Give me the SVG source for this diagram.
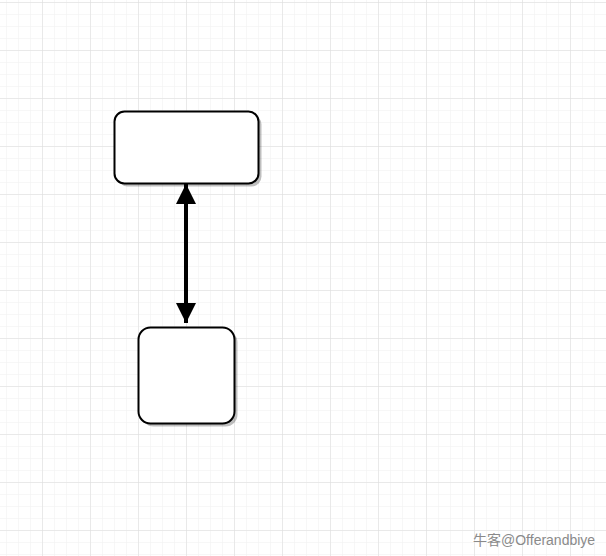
<svg xmlns="http://www.w3.org/2000/svg" width="606" height="556" viewBox="0 0 606 556">
<defs>
<pattern id="minor" x="6" y="2" width="12" height="12" patternUnits="userSpaceOnUse">
<path d="M0 0H12M0 0V12" fill="none" stroke="#f0f0f0" stroke-width="1"/>
</pattern>
<pattern id="major" x="42" y="2" width="48" height="48" patternUnits="userSpaceOnUse">
<path d="M0 0H48M0 0V48" fill="none" stroke="#dcdcdc" stroke-width="1"/>
</pattern>
<marker id="ah" viewBox="0 0 20 21" refX="20" refY="10" markerWidth="20" markerHeight="21" markerUnits="userSpaceOnUse" orient="auto-start-reverse">
<path d="M0 0L20 10L0 20Z" fill="#000"/>
</marker>
<style>
.box{fill:#fff;stroke:#000;stroke-width:2}
.shadow{fill:#000;opacity:0.25}
.wm{font-family:"Liberation Sans","Noto Sans CJK SC",sans-serif;font-size:14px;fill:#8a8a8a}
</style>
</defs>
<rect width="606" height="556" fill="#fff"/>
<rect width="606" height="556" fill="url(#minor)"/>
<rect width="606" height="556" fill="url(#major)"/>
<g id="node-top">
<rect class="shadow" x="117.5" y="114.5" width="144" height="72" rx="10"/>
<rect class="box" x="114.5" y="111.5" width="144" height="72" rx="10"/>
</g>
<g id="node-bottom">
<rect class="shadow" x="141.5" y="330.5" width="96" height="96" rx="12"/>
<rect class="box" x="138.5" y="327.5" width="96" height="96" rx="12"/>
</g>
<g id="connectors">
<line x1="186" y1="184" x2="186" y2="323" stroke="#000" stroke-width="4" marker-start="url(#ah)" marker-end="url(#ah)"/>
</g>
<text class="wm" x="473" y="545">牛客@Offerandbiye</text>
</svg>
